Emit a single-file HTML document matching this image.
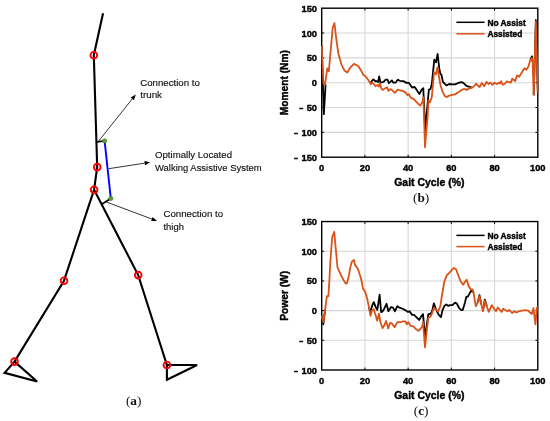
<!DOCTYPE html>
<html lang="en">
<head>
<meta charset="utf-8">
<title>Optimally Located Walking Assistive System</title>
<style>
html,body{margin:0;padding:0;background:#fff;}
body{width:550px;height:421px;overflow:hidden;}
svg{display:block;}
.tk{font-family:"Liberation Sans",Arial,sans-serif;font-weight:bold;font-size:9.3px;fill:#000;stroke:#000;stroke-width:0.4px;}
.lg{font-family:"Liberation Sans",Arial,sans-serif;font-weight:bold;font-size:8.4px;fill:#000;stroke:#000;stroke-width:0.4px;}
.al{font-family:"Liberation Sans",Arial,sans-serif;font-weight:bold;font-size:10.2px;fill:#000;stroke:#000;stroke-width:0.4px;}
.lb{font-family:"Liberation Sans",Arial,sans-serif;font-size:9.7px;fill:#111;stroke:#111;stroke-width:0.15px;}
.cap{font-family:"Liberation Serif","Times New Roman",serif;font-size:13.3px;fill:#111;}
</style>
</head>
<body>
<svg width="550" height="421" viewBox="0 0 550 421">
<rect x="0" y="0" width="550" height="421" fill="#fff"/>
<!-- (a) stick figure -->
<g fill="none" stroke="#000" stroke-width="2.1" stroke-linecap="butt" stroke-linejoin="miter">
<polyline points="103.05,13.2 93.8,55.2 97.2,167.1 94.1,189.7"/>
<polyline points="94.1,189.7 64,280.7 14.5,361.6"/>
<polyline points="94.1,189.7 138.2,275.1 166.9,365"/>
<polygon points="14.5,361.6 4.6,372.8 37.1,381.5"/>
<polygon points="166.9,365 197.1,365 166.9,379.7"/>
<line x1="96.6" y1="142" x2="104.6" y2="140.9" stroke-width="1.7"/>
<line x1="101.7" y1="204.2" x2="110.8" y2="198.45" stroke-width="1.7"/>
</g>
<line x1="104.6" y1="140.9" x2="110.8" y2="198.45" stroke="#0000ff" stroke-width="1.9"/>
<circle cx="104.6" cy="140.9" r="2.2" fill="#5a9e2e" stroke="#3f7a1e" stroke-width="0.5"/>
<circle cx="110.8" cy="198.45" r="2.2" fill="#5a9e2e" stroke="#3f7a1e" stroke-width="0.5"/>
<circle cx="93.8" cy="55.2" r="3.35" fill="none" stroke="#f00" stroke-width="1.9"/>
<circle cx="97.2" cy="167.1" r="3.35" fill="none" stroke="#f00" stroke-width="1.9"/>
<circle cx="94.1" cy="189.7" r="3.35" fill="none" stroke="#f00" stroke-width="1.9"/>
<circle cx="64" cy="280.7" r="3.35" fill="none" stroke="#f00" stroke-width="1.9"/>
<circle cx="138.2" cy="275.1" r="3.35" fill="none" stroke="#f00" stroke-width="1.9"/>
<circle cx="14.5" cy="361.6" r="3.35" fill="none" stroke="#f00" stroke-width="1.9"/>
<circle cx="166.9" cy="365" r="3.35" fill="none" stroke="#f00" stroke-width="1.9"/>
<line x1="97.6" y1="142.3" x2="132.30" y2="98.87" stroke="#000" stroke-width="0.8"/><polygon points="135.8,94.5 133.94,100.19 130.66,97.56" fill="#000"/>
<line x1="108.7" y1="168.7" x2="144.67" y2="163.15" stroke="#000" stroke-width="0.8"/><polygon points="150.2,162.3 144.99,165.23 144.35,161.08" fill="#000"/>
<line x1="106.4" y1="202.0" x2="151.86" y2="219.03" stroke="#000" stroke-width="0.8"/><polygon points="157.1,221.0 151.12,221.00 152.59,217.07" fill="#000"/>
<text class="lb" x="140.2" y="85.75" textLength="59.6" lengthAdjust="spacingAndGlyphs">Connection to</text>
<text class="lb" x="140.2" y="98.2" textLength="21.8" lengthAdjust="spacingAndGlyphs">trunk</text>
<text class="lb" x="155" y="157.9" textLength="77" lengthAdjust="spacingAndGlyphs">Optimally Located</text>
<text class="lb" x="155" y="170.9" textLength="106.7" lengthAdjust="spacingAndGlyphs">Walking Assistive System</text>
<text class="lb" x="163.5" y="217.2" textLength="59.6" lengthAdjust="spacingAndGlyphs">Connection to</text>
<text class="lb" x="163.5" y="229.7" textLength="20.4" lengthAdjust="spacingAndGlyphs">thigh</text>
<text class="cap" x="133.65" y="404.8" text-anchor="middle">(<tspan font-weight="bold">a</tspan>)</text>
<text class="cap" x="421.1" y="201.9" text-anchor="middle">(<tspan font-weight="bold">b</tspan>)</text>
<text class="cap" x="421.15" y="415.1" text-anchor="middle">(<tspan font-weight="bold">c</tspan>)</text>
<!-- (b) moment chart -->
<line x1="364.92" y1="8.2" x2="364.92" y2="157.2" stroke="#d6d6d6" stroke-width="1.05"/>
<line x1="408.14" y1="8.2" x2="408.14" y2="157.2" stroke="#d6d6d6" stroke-width="1.05"/>
<line x1="451.36" y1="8.2" x2="451.36" y2="157.2" stroke="#d6d6d6" stroke-width="1.05"/>
<line x1="494.58" y1="8.2" x2="494.58" y2="157.2" stroke="#d6d6d6" stroke-width="1.05"/>
<line x1="321.7" y1="33.03" x2="537.8" y2="33.03" stroke="#d6d6d6" stroke-width="1.05"/>
<line x1="321.7" y1="57.87" x2="537.8" y2="57.87" stroke="#d6d6d6" stroke-width="1.05"/>
<line x1="321.7" y1="82.70" x2="537.8" y2="82.70" stroke="#d6d6d6" stroke-width="1.05"/>
<line x1="321.7" y1="107.53" x2="537.8" y2="107.53" stroke="#d6d6d6" stroke-width="1.05"/>
<line x1="321.7" y1="132.37" x2="537.8" y2="132.37" stroke="#d6d6d6" stroke-width="1.05"/>
<line x1="364.92" y1="157.2" x2="364.92" y2="154.79999999999998" stroke="#000" stroke-width="1"/>
<line x1="364.92" y1="8.2" x2="364.92" y2="10.6" stroke="#000" stroke-width="1"/>
<line x1="408.14" y1="157.2" x2="408.14" y2="154.79999999999998" stroke="#000" stroke-width="1"/>
<line x1="408.14" y1="8.2" x2="408.14" y2="10.6" stroke="#000" stroke-width="1"/>
<line x1="451.36" y1="157.2" x2="451.36" y2="154.79999999999998" stroke="#000" stroke-width="1"/>
<line x1="451.36" y1="8.2" x2="451.36" y2="10.6" stroke="#000" stroke-width="1"/>
<line x1="494.58" y1="157.2" x2="494.58" y2="154.79999999999998" stroke="#000" stroke-width="1"/>
<line x1="494.58" y1="8.2" x2="494.58" y2="10.6" stroke="#000" stroke-width="1"/>
<line x1="321.7" y1="33.03" x2="324.09999999999997" y2="33.03" stroke="#000" stroke-width="1"/>
<line x1="537.8" y1="33.03" x2="535.4" y2="33.03" stroke="#000" stroke-width="1"/>
<line x1="321.7" y1="57.87" x2="324.09999999999997" y2="57.87" stroke="#000" stroke-width="1"/>
<line x1="537.8" y1="57.87" x2="535.4" y2="57.87" stroke="#000" stroke-width="1"/>
<line x1="321.7" y1="82.70" x2="324.09999999999997" y2="82.70" stroke="#000" stroke-width="1"/>
<line x1="537.8" y1="82.70" x2="535.4" y2="82.70" stroke="#000" stroke-width="1"/>
<line x1="321.7" y1="107.53" x2="324.09999999999997" y2="107.53" stroke="#000" stroke-width="1"/>
<line x1="537.8" y1="107.53" x2="535.4" y2="107.53" stroke="#000" stroke-width="1"/>
<line x1="321.7" y1="132.37" x2="324.09999999999997" y2="132.37" stroke="#000" stroke-width="1"/>
<line x1="537.8" y1="132.37" x2="535.4" y2="132.37" stroke="#000" stroke-width="1"/>
<rect x="321.7" y="8.2" width="216.09999999999997" height="149.0" fill="none" stroke="#000" stroke-width="1.4"/>
<clipPath id="cp8"><rect x="320.9" y="7.3999999999999995" width="217.69999999999996" height="150.6"/></clipPath>
<g clip-path="url(#cp8)">
<polyline points="321.70,45.95 323.86,114.19 325.59,84.44" fill="none" stroke="#000" stroke-width="1.8" stroke-linejoin="round" stroke-linecap="butt"/>
<polyline points="370.75,84.19 371.19,81.95 373.35,79.37 375.51,81.26 377.02,81.26 378.10,81.95 379.18,76.49 380.48,82.70 383.50,81.95 385.67,79.72 387.61,79.72 388.91,83.20 391.93,80.37 393.23,82.55 395.61,82.55 397.77,79.72 399.93,80.81 403.39,81.11 406.41,82.85 408.57,82.55 410.73,85.43 412.25,87.67 414.41,86.87 416.57,89.65 419.38,94.12 421.65,89.65 423.27,88.16 425.21,129.88 428.89,89.65 430.40,89.16 431.80,83.99 434.29,59.61 436.02,62.34 437.64,53.99 439.26,68.30 440.34,73.76 441.42,74.75 442.93,81.86 445.09,84.19 446.39,85.43 449.20,83.99 452.22,84.44 455.03,84.44 457.84,83.20 460.87,82.20 463.03,82.55 465.19,84.69 467.14,86.18 469.51,86.97 472.11,87.67" fill="none" stroke="#000" stroke-width="1.8" stroke-linejoin="round" stroke-linecap="butt"/>
<polyline points="530.45,59.51 531.97,56.38 532.61,61.84" fill="none" stroke="#000" stroke-width="1.8" stroke-linejoin="round" stroke-linecap="butt"/>
<polyline points="533.69,94.92 535.86,20.12 537.80,92.63" fill="none" stroke="#000" stroke-width="1.8" stroke-linejoin="round" stroke-linecap="butt"/>
<polyline points="321.70,45.95 323.43,83.44 324.94,84.89 327.32,68.30 328.83,71.28 332.72,27.57 334.45,23.10 336.39,39.99 338.56,54.54 341.58,64.82 344.39,70.43 347.31,72.57 350.23,67.55 353.90,63.93 358.22,66.06 361.03,70.43 363.19,74.75 365.35,76.24 368.27,79.82 370.75,84.19 371.84,82.70 373.35,83.44 375.51,86.33 377.67,84.89 378.75,86.62 379.83,83.44 381.34,88.46 382.64,89.90 384.80,88.46 387.07,87.42 388.47,90.89 390.42,89.06 392.58,90.50 394.74,92.88 397.77,89.65 400.58,90.50 403.39,91.14 405.76,92.63 407.49,95.12 408.79,94.12 410.73,97.60 413.76,99.09 415.92,101.33 418.08,103.56 420.24,105.55 422.40,102.07 423.38,97.10 425.00,147.27 427.70,115.48 428.45,100.33 429.86,102.32 431.80,97.10 434.07,72.27 436.02,74.26 437.42,67.30 439.26,78.23 440.55,85.43 442.72,91.94 444.88,96.11 446.39,97.10 449.20,95.61 452.22,94.82 455.03,94.37 457.84,92.63 460.87,90.50 463.03,89.16 465.19,89.16 466.49,89.85 469.51,88.41 472.32,87.67 474.05,86.18 476.00,83.69 477.94,85.53 479.67,86.97 481.83,83.05 484.21,86.18 486.58,81.71 488.53,84.09 490.47,82.70 492.42,84.79 494.36,82.70 496.96,84.09 498.69,82.70 499.98,83.44 501.06,81.21 502.79,84.79 504.95,83.69 506.90,81.21 508.95,82.20 510.79,82.70 512.30,78.58 515.11,81.21 517.05,75.40 519.11,76.84 521.81,72.52 524.40,68.30 526.35,69.79 528.29,66.81 530.45,59.51 531.97,58.07 532.61,61.84 533.69,94.92 535.86,21.61 537.80,92.63" fill="none" stroke="#D95319" stroke-width="1.8" stroke-linejoin="round" stroke-linecap="butt"/>
</g>
<line x1="456.4" y1="22.299999999999997" x2="484.6" y2="22.299999999999997" stroke="#000" stroke-width="1.5"/>
<line x1="456.4" y1="33.8" x2="484.6" y2="33.8" stroke="#D95319" stroke-width="1.5"/>
<text class="lg" x="487.4" y="25.699999999999996">No Assist</text>
<text class="lg" x="487.4" y="37.0">Assisted</text>
<text class="tk" x="317" y="11.70" text-anchor="end">150</text>
<text class="tk" x="317" y="36.53" text-anchor="end">100</text>
<text class="tk" x="317" y="61.37" text-anchor="end">50</text>
<text class="tk" x="317" y="86.20" text-anchor="end">0</text>
<text class="tk" x="317" y="111.03" text-anchor="end">50</text>
<text class="tk" x="299.26" y="111.03" textLength="4" lengthAdjust="spacingAndGlyphs">–</text>
<text class="tk" x="317" y="135.87" text-anchor="end">100</text>
<text class="tk" x="294.09" y="135.87" textLength="4" lengthAdjust="spacingAndGlyphs">–</text>
<text class="tk" x="317" y="160.70" text-anchor="end">150</text>
<text class="tk" x="294.09" y="160.70" textLength="4" lengthAdjust="spacingAndGlyphs">–</text>
<text class="tk" x="321.70" y="170.89999999999998" text-anchor="middle">0</text>
<text class="tk" x="364.92" y="170.89999999999998" text-anchor="middle">20</text>
<text class="tk" x="408.14" y="170.89999999999998" text-anchor="middle">40</text>
<text class="tk" x="451.36" y="170.89999999999998" text-anchor="middle">60</text>
<text class="tk" x="494.58" y="170.89999999999998" text-anchor="middle">80</text>
<text class="tk" x="537.80" y="170.89999999999998" text-anchor="middle">100</text>
<text class="al" style="font-size:10.45px" x="429.35" y="185.7" text-anchor="middle">Gait Cycle (%)</text>
<text class="al" transform="translate(288.0,82.70) rotate(-90)" text-anchor="middle">Moment (Nm)</text>
<!-- (c) power chart -->
<line x1="364.92" y1="221.55" x2="364.92" y2="370.0" stroke="#d6d6d6" stroke-width="1.05"/>
<line x1="408.14" y1="221.55" x2="408.14" y2="370.0" stroke="#d6d6d6" stroke-width="1.05"/>
<line x1="451.36" y1="221.55" x2="451.36" y2="370.0" stroke="#d6d6d6" stroke-width="1.05"/>
<line x1="494.58" y1="221.55" x2="494.58" y2="370.0" stroke="#d6d6d6" stroke-width="1.05"/>
<line x1="321.7" y1="251.24" x2="537.8" y2="251.24" stroke="#d6d6d6" stroke-width="1.05"/>
<line x1="321.7" y1="280.93" x2="537.8" y2="280.93" stroke="#d6d6d6" stroke-width="1.05"/>
<line x1="321.7" y1="310.62" x2="537.8" y2="310.62" stroke="#d6d6d6" stroke-width="1.05"/>
<line x1="321.7" y1="340.31" x2="537.8" y2="340.31" stroke="#d6d6d6" stroke-width="1.05"/>
<line x1="364.92" y1="370.0" x2="364.92" y2="367.6" stroke="#000" stroke-width="1"/>
<line x1="364.92" y1="221.55" x2="364.92" y2="223.95000000000002" stroke="#000" stroke-width="1"/>
<line x1="408.14" y1="370.0" x2="408.14" y2="367.6" stroke="#000" stroke-width="1"/>
<line x1="408.14" y1="221.55" x2="408.14" y2="223.95000000000002" stroke="#000" stroke-width="1"/>
<line x1="451.36" y1="370.0" x2="451.36" y2="367.6" stroke="#000" stroke-width="1"/>
<line x1="451.36" y1="221.55" x2="451.36" y2="223.95000000000002" stroke="#000" stroke-width="1"/>
<line x1="494.58" y1="370.0" x2="494.58" y2="367.6" stroke="#000" stroke-width="1"/>
<line x1="494.58" y1="221.55" x2="494.58" y2="223.95000000000002" stroke="#000" stroke-width="1"/>
<line x1="321.7" y1="251.24" x2="324.09999999999997" y2="251.24" stroke="#000" stroke-width="1"/>
<line x1="537.8" y1="251.24" x2="535.4" y2="251.24" stroke="#000" stroke-width="1"/>
<line x1="321.7" y1="280.93" x2="324.09999999999997" y2="280.93" stroke="#000" stroke-width="1"/>
<line x1="537.8" y1="280.93" x2="535.4" y2="280.93" stroke="#000" stroke-width="1"/>
<line x1="321.7" y1="310.62" x2="324.09999999999997" y2="310.62" stroke="#000" stroke-width="1"/>
<line x1="537.8" y1="310.62" x2="535.4" y2="310.62" stroke="#000" stroke-width="1"/>
<line x1="321.7" y1="340.31" x2="324.09999999999997" y2="340.31" stroke="#000" stroke-width="1"/>
<line x1="537.8" y1="340.31" x2="535.4" y2="340.31" stroke="#000" stroke-width="1"/>
<rect x="321.7" y="221.55" width="216.09999999999997" height="148.45" fill="none" stroke="#000" stroke-width="1.4"/>
<clipPath id="cp221"><rect x="320.9" y="220.75" width="217.69999999999996" height="150.04999999999998"/></clipPath>
<g clip-path="url(#cp221)">
<polyline points="321.70,315.73 323.32,324.28 325.16,309.14" fill="none" stroke="#000" stroke-width="1.8" stroke-linejoin="round" stroke-linecap="butt"/>
<polyline points="369.03,307.71 370.54,312.10 371.94,306.23 373.78,302.19 375.72,307.06 377.24,309.91 378.32,303.49 379.61,294.59 381.13,312.10 382.64,311.33 384.37,308.42 386.53,303.79 388.37,311.21 391.07,307.06 393.01,307.65 394.96,311.21 397.33,306.11 399.50,307.65 403.17,309.02 406.09,310.62 407.92,311.93 409.65,311.21 411.92,314.78 414.08,314.78 416.35,317.03 419.16,319.94 421.32,316.32 423.05,314.12 425.00,337.34 428.35,314.12 430.18,314.12 431.91,311.93 433.86,303.38 435.91,309.14 438.61,314.54 440.99,317.03 442.28,310.92 444.44,305.87 446.28,304.39 448.12,305.87 450.28,305.10 452.44,305.10 455.03,302.60 456.87,303.61 459.14,308.01 461.30,310.20 462.71,309.91 464.87,302.90 466.27,297.08 468.00,296.37 469.94,292.81 472.11,289.54 473.83,292.81" fill="none" stroke="#000" stroke-width="1.8" stroke-linejoin="round" stroke-linecap="butt"/>
<polyline points="477.62,302.72 479.45,295.18 481.29,304.27" fill="none" stroke="#000" stroke-width="1.8" stroke-linejoin="round" stroke-linecap="butt"/>
<polyline points="482.91,311.21 484.86,299.63 486.80,306.34" fill="none" stroke="#000" stroke-width="1.8" stroke-linejoin="round" stroke-linecap="butt"/>
<polyline points="321.70,315.73 323.32,322.26 325.16,309.14 326.89,296.07 328.40,296.07 329.48,278.55 330.34,261.33 332.18,237.29 334.23,231.88 335.31,243.82 337.48,267.27 339.64,272.20 341.80,276.77 344.07,280.93 345.80,283.60 346.98,283.31 348.50,277.37 350.66,265.67 352.06,261.33 353.90,259.85 354.98,264.90 357.36,267.87 359.30,272.91 361.25,279.50 362.98,288.65 365.14,291.62 367.30,298.98 369.03,307.71 370.54,315.73 371.94,310.62 373.78,309.14 375.29,314.18 377.24,320.71 378.97,313.59 380.37,322.26 382.64,328.08 384.37,325.17 386.10,321.01 388.26,328.43 389.99,322.91 392.15,323.68 394.53,327.25 397.33,322.14 400.36,322.14 403.17,321.31 405.33,321.31 406.84,324.28 408.36,322.14 410.52,325.76 413.33,326.47 415.49,328.67 418.51,330.81 420.67,328.67 422.19,326.47 423.05,322.14 425.00,347.44 426.94,329.38 428.35,317.75 430.18,317.03 431.48,314.78 434.07,307.65 435.91,309.73 438.18,311.21 440.34,306.11 442.18,293.99 444.23,282.12 446.71,275.23 448.98,273.21 451.14,270.84 453.52,267.99 455.90,269.05 458.28,275.23 460.44,281.05 463.14,284.73 464.97,281.82 466.70,279.74 468.43,285.44 470.70,289.54 472.32,289.54 473.83,294.29 475.78,306.46 477.62,302.72 479.45,296.19 481.29,304.27 482.91,311.21 484.86,300.82 486.80,306.34 488.75,311.81 491.77,305.16 493.93,308.54 495.98,311.21 497.82,307.47 499.98,310.03 501.71,311.93 503.22,308.72 505.60,310.20 507.55,311.33 509.27,309.91 512.08,313.00 514.35,311.33 516.62,312.52 519.43,311.04 522.35,310.62 525.27,310.20 528.08,310.62 530.34,312.82 531.75,313.95 533.48,308.13 535.42,324.46 536.94,307.65 537.80,307.65" fill="none" stroke="#D95319" stroke-width="1.8" stroke-linejoin="round" stroke-linecap="butt"/>
</g>
<line x1="456.4" y1="235.4" x2="484.6" y2="235.4" stroke="#000" stroke-width="1.5"/>
<line x1="456.4" y1="246.60000000000002" x2="484.6" y2="246.60000000000002" stroke="#D95319" stroke-width="1.5"/>
<text class="lg" x="487.4" y="238.8">No Assist</text>
<text class="lg" x="487.4" y="249.8">Assisted</text>
<text class="tk" x="317" y="225.05" text-anchor="end">150</text>
<text class="tk" x="317" y="254.74" text-anchor="end">100</text>
<text class="tk" x="317" y="284.43" text-anchor="end">50</text>
<text class="tk" x="317" y="314.12" text-anchor="end">0</text>
<text class="tk" x="317" y="343.81" text-anchor="end">50</text>
<text class="tk" x="299.26" y="343.81" textLength="4" lengthAdjust="spacingAndGlyphs">–</text>
<text class="tk" x="317" y="373.50" text-anchor="end">100</text>
<text class="tk" x="294.09" y="373.50" textLength="4" lengthAdjust="spacingAndGlyphs">–</text>
<text class="tk" x="321.70" y="383.7" text-anchor="middle">0</text>
<text class="tk" x="364.92" y="383.7" text-anchor="middle">20</text>
<text class="tk" x="408.14" y="383.7" text-anchor="middle">40</text>
<text class="tk" x="451.36" y="383.7" text-anchor="middle">60</text>
<text class="tk" x="494.58" y="383.7" text-anchor="middle">80</text>
<text class="tk" x="537.80" y="383.7" text-anchor="middle">100</text>
<text class="al" style="font-size:10.45px" x="429.35" y="398.5" text-anchor="middle">Gait Cycle (%)</text>
<text class="al" transform="translate(288.0,295.77) rotate(-90)" text-anchor="middle">Power (W)</text>
</svg>
</body>
</html>
